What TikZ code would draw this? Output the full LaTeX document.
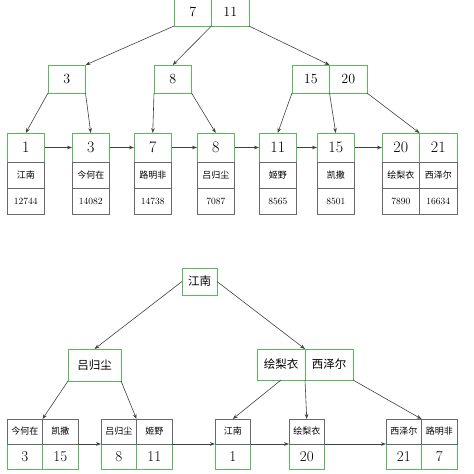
\documentclass[tikz,border=0pt]{standalone}
\usepackage{fontspec}
\newfontfamily\cjk{Noto Sans CJK SC}
\usetikzlibrary{positioning,arrows.meta}
\definecolor{keygreen}{RGB}{92,184,92}
\definecolor{cellgray}{RGB}{105,105,105}
\definecolor{arrowgray}{RGB}{65,65,65}

\begin{document}
\begin{tikzpicture}[
  x=1pt, y=-1pt,
  node distance=0pt,
  >={Stealth[length=5pt,width=3.6pt]},
  inner/.style={
    rectangle,
    draw=keygreen,
    line width=0.8pt,
    outer sep=0pt,
    inner sep=0pt,
    minimum width=37.5pt,
    minimum height=28pt,
    font=\fontsize{14}{16}\selectfont
  },
  leafkey/.style={
    inner,
    minimum height=29pt,
    font=\fontsize{16}{18}\selectfont
  },
  leafname/.style={
    rectangle,
    draw=cellgray,
    line width=0.8pt,
    outer sep=0pt,
    inner sep=0pt,
    minimum width=37.5pt,
    minimum height=26pt,
    font=\cjk\fontsize{9}{11}\selectfont
  },
  leafval/.style={
    leafname,
    font=\fontsize{9.5}{11}\selectfont
  },
  cninner/.style={
    inner,
    minimum width=48pt,
    minimum height=31pt,
    font=\cjk\fontsize{11.5}{13}\selectfont
  },
  cnname/.style={
    leafname,
    minimum width=35.5pt,
    minimum height=25pt
  },
  cnval/.style={
    inner,
    minimum width=35.5pt,
    minimum height=25pt,
    font=\fontsize{15}{17}\selectfont
  },
  arr/.style={->,draw=arrowgray,line width=0.6pt}
]
\useasboundingbox (0,0) rectangle (474,474);

\node[inner, anchor=north west] (r7) at (174,-2) {7};
\node[inner, right=of r7] (r11) {11};

\node[inner, anchor=north west] (n3) at (48,65) {3};
\node[inner, anchor=north west] (n8) at (154,65) {8};
\node[inner, anchor=north west] (n15) at (292,65) {15};
\node[inner, right=of n15] (n20) {20};

\node[leafkey, anchor=north west] (k1) at (7,133) {1};
\node[leafname, below=of k1] (m1) {江南};
\node[leafval, below=of m1] (v1) {12744};

\node[leafkey, anchor=north west] (k3) at (72,133) {3};
\node[leafname, below=of k3] (m3) {今何在};
\node[leafval, below=of m3] (v3) {14082};

\node[leafkey, anchor=north west] (k7) at (134,133) {7};
\node[leafname, below=of k7] (m7) {路明非};
\node[leafval, below=of m7] (v7) {14738};

\node[leafkey, anchor=north west] (k8) at (197,133) {8};
\node[leafname, below=of k8] (m8) {吕归尘};
\node[leafval, below=of m8] (v8) {7087};

\node[leafkey, anchor=north west] (k11) at (259,133) {11};
\node[leafname, below=of k11] (m11) {姬野};
\node[leafval, below=of m11] (v11) {8565};

\node[leafkey, anchor=north west] (k15) at (317,133) {15};
\node[leafname, below=of k15] (m15) {凯撒};
\node[leafval, below=of m15] (v15) {8501};

\node[leafkey, anchor=north west] (k20) at (382,133) {20};
\node[leafkey, right=of k20] (k21) {21};
\node[leafname, below=of k20] (m20) {绘梨衣};
\node[leafname, below=of k21] (m21) {西泽尔};
\node[leafval, below=of m20] (v20) {7890};
\node[leafval, below=of m21] (v21) {16634};

\draw[arr] (r7.south west) -- (n3.north east);
\draw[arr] (r7.south east) -- (n8.north);
\draw[arr] (r11.south east) -- (n15.north east);
\draw[arr] (n3.south west) -- (k1.north);
\draw[arr] (n3.south east) -- (k3.north);
\draw[arr] (n8.south west) -- (k7.north);
\draw[arr] (n8.south east) -- (k8.north);
\draw[arr] (n15.south west) -- (k11.north);
\draw[arr] (n15.south east) -- (k15.north);
\draw[arr] (n20.south east) -- (k20.north east);

\draw[arr] (k1) -- (k3);
\draw[arr] (k3) -- (k7);
\draw[arr] (k7) -- (k8);
\draw[arr] (k8) -- (k11);
\draw[arr] (k11) -- (k15);
\draw[arr] (k15) -- (k20);

\node[cninner, anchor=north west, minimum width=35pt, minimum height=27pt] (jn) at (182,268) {江南};
\node[cninner, anchor=north west, minimum width=53pt, minimum height=32pt] (lgc) at (68,349) {吕归尘};
\node[cninner, anchor=north west] (hly) at (257,349) {绘梨衣};
\node[cninner, right=of hly] (xze) {西泽尔};

\node[cnval, anchor=north west] (a3) at (7,444) {3};
\node[cnval, right=of a3] (a15) {15};
\node[cnname, above=of a3] (ajhz) {今何在};
\node[cnname, above=of a15] (aks) {凯撒};

\node[cnval, anchor=north west] (b8) at (101,444) {8};
\node[cnval, right=of b8] (b11) {11};
\node[cnname, above=of b8] (blgc) {吕归尘};
\node[cnname, above=of b11] (bjy) {姬野};

\node[cnval, anchor=north west] (c1) at (215,444) {1};
\node[cnname, above=of c1] (cjn) {江南};

\node[cnval, anchor=north west] (d20) at (289,444) {20};
\node[cnname, above=of d20] (dhly) {绘梨衣};

\node[cnval, anchor=north west] (e21) at (386,444) {21};
\node[cnval, right=of e21] (e7) {7};
\node[cnname, above=of e21] (exze) {西泽尔};
\node[cnname, above=of e7] (elmf) {路明非};

\draw[arr] (jn.west) -- (lgc.north);
\draw[arr] (jn.east) -- (hly.north east);
\draw[arr] (lgc.south west) -- (ajhz.north east);
\draw[arr] (lgc.south east) -- (blgc.north east);
\draw[arr] (hly.south) -- (cjn.north);
\draw[arr] (hly.south east) -- (dhly.north);
\draw[arr] (xze.south east) -- (exze.north east);

\draw[arr] (aks.south east) -- (blgc.south west);
\draw[arr] (bjy.south east) -- (cjn.south west);
\draw[arr] (cjn.south east) -- (dhly.south west);
\draw[arr] (dhly.south east) -- (exze.south west);

\end{tikzpicture}
\end{document}
